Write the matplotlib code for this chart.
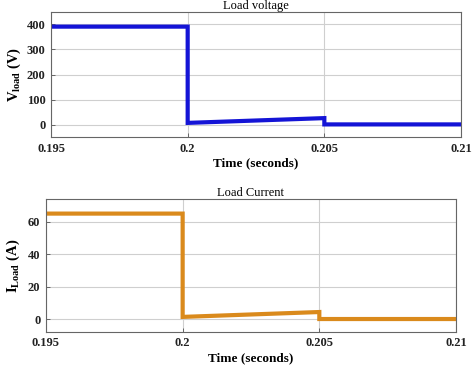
import matplotlib
matplotlib.use("Agg")
import matplotlib.pyplot as plt

plt.rcParams['font.family'] = ['Liberation Serif', 'DejaVu Serif']
plt.rcParams['mathtext.fontset'] = 'custom'
plt.rcParams['mathtext.rm'] = 'Liberation Serif'
plt.rcParams['mathtext.bf'] = 'Liberation Serif:bold'
plt.rcParams['mathtext.it'] = 'Liberation Serif:italic'

# Data
v_time = [0.195, 0.2, 0.2, 0.205, 0.205, 0.21]
v_load = [390, 390, 8, 27, 2, 2]
i_time = [0.195, 0.2, 0.2, 0.205, 0.205, 0.21]
i_load = [65, 65, 1.5, 4.5, 0.2, 0.2]

xticks = [0.195, 0.2, 0.205, 0.21]
xticklabels = ['0.195', '0.2', '0.205', '0.21']
v_yticks = [0, 100, 200, 300, 400]
i_yticks = [0, 20, 40, 60]

fig = plt.figure(figsize=(4.74, 3.72), dpi=100)
ax1 = fig.add_axes([0.1076, 0.6317, 0.865, 0.336])
ax2 = fig.add_axes([0.097, 0.1083, 0.865, 0.356])

def style(ax):
    ax.set_xlim(0.195, 0.21)
    ax.set_xticks(xticks)
    ax.set_xticklabels(xticklabels)
    ax.grid(True, color='#cfcfcf', linewidth=0.8)
    ax.set_axisbelow(True)
    ax.tick_params(direction='in', length=3, width=0.6, labelsize=9, pad=4, color='#555555')
    for lab in ax.get_xticklabels() + ax.get_yticklabels():
        lab.set_fontweight('bold')
        lab.set_color('#222222')
    for s in ax.spines.values():
        s.set_color('#666666')
        s.set_linewidth(0.8)
    ax.set_xlabel('Time (seconds)', fontsize=9.5, fontweight='bold', labelpad=2)

ax1.plot(v_time, v_load, color='#1414d6', linewidth=3.0, solid_joinstyle='miter')
ax1.set_ylim(-48, 448)
ax1.set_yticks(v_yticks)
style(ax1)
ax1.set_title('Load voltage', fontsize=9, pad=2)
ax1.set_ylabel(r'$\mathbf{V_{load}}$ (V)', fontsize=10.5, fontweight='bold', labelpad=3)

ax2.plot(i_time, i_load, color='#da8a1c', linewidth=3.0, solid_joinstyle='miter')
ax2.set_ylim(-7.6, 73.8)
ax2.set_yticks(i_yticks)
style(ax2)
ax2.set_title('Load Current', fontsize=9, pad=2)
ax2.set_ylabel(r'$\mathbf{I_{Load}}$ (A)', fontsize=10.5, fontweight='bold', labelpad=4)

fig.savefig('out.png', dpi=100)
